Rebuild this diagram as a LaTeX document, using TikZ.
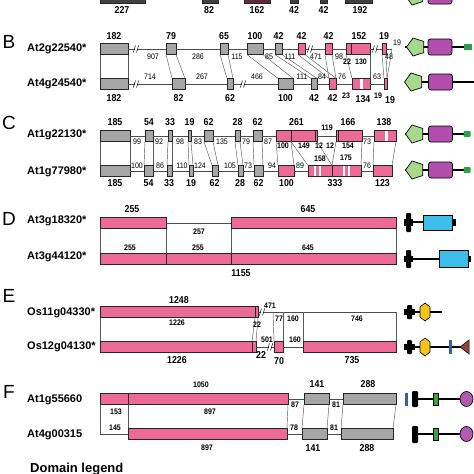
\documentclass[tikz,border=0pt]{standalone}
\usepackage{fontspec}
\setmainfont{Liberation Sans}
\newfontfamily\narf[FakeStretch=0.88]{Liberation Sans}
\usetikzlibrary{shapes.geometric}
\definecolor{expink}{HTML}{EC6A96}
\definecolor{exgray}{HTML}{A6A6A6}
\definecolor{pentg}{HTML}{A8D88C}
\definecolor{magd}{HTML}{B24FAE}
\definecolor{sqg}{HTML}{2E9E4A}
\definecolor{bluebx}{HTML}{3CBDEA}
\definecolor{yelhx}{HTML}{F6C41C}
\definecolor{brn}{HTML}{8C4636}
\definecolor{blbar}{HTML}{3B5CA8}
\definecolor{grbar}{HTML}{3DA33F}
\definecolor{purel}{HTML}{B05AB2}
\newcommand\X[5]{\node[#5, minimum width={(#3-#2)*1pt}] (#1) at ({(#2+#3)/2},#4) {};}
\newcommand\T[5]{\node[#1] (#2) at (#3,#4) {#5};}
\newcommand\brk[2]{\fill[white] (#1-1.4,#2-4) rectangle (#1+1.4,#2+4);
 \draw[line width=0.5pt] (#1-2.6,#2+3.5) -- (#1-0.6,#2-3.5) (#1+0.6,#2+3.5) -- (#1+2.6,#2-3.5);}
\newcommand\pent[3]{\node[regular polygon, regular polygon sides=5, shape border rotate=90, minimum size=19pt, inner sep=0pt, fill=pentg, draw=black, line width=0.7pt] (#1) at (#2,#3) {};}
\newcommand\magb[3]{\node[draw=black, line width=0.8pt, fill=magd, rounded corners=2.5pt, minimum width=24pt, minimum height=16pt, inner sep=0pt] (#1) at (#2,#3) {};}
\begin{document}
\begin{tikzpicture}[x=1pt,y=-1pt,
 ex/.style={draw=black!85, line width=0.8pt, inner sep=0pt, outer sep=0pt, minimum height=11.2pt},
 gx/.style={ex, fill=exgray},
 px/.style={ex, fill=expink},
 dk/.style={ex, fill=black!75},
 dkp/.style={ex, fill=expink!40!black},
 trk/.style={black!70, line width=0.8pt},
 cn/.style={black!65, line width=0.45pt},
 dv/.style={black!85, line width=0.6pt},
 num/.style={font=\narf\bfseries\fontsize{10}{10}\selectfont, inner sep=0pt},
 sn/.style={font=\narf\bfseries\fontsize{8}{8}\selectfont, inner sep=0pt},
 il/.style={font=\narf\fontsize{8}{8}\selectfont, inner sep=0pt},
 gn/.style={font=\bfseries\fontsize{11}{11}\selectfont, anchor=west, inner sep=0pt},
 pl/.style={font=\fontsize{19}{19}\selectfont, inner sep=0pt},
 dline/.style={line width=2.2pt, black}]
\useasboundingbox (0,0) rectangle (474,474);
\clip (0,0) rectangle (474,474);
\fill[white] (0,0) rectangle (474,474);

% ---------- Row A (cut off) ----------
\X{a1}{100}{145}{-2}{dk}
\X{a2}{202}{218}{-2}{dk}
\X{a3}{244}{270}{-2}{dkp}
\X{a4}{290}{298}{-2}{dk}
\X{a5}{320}{327}{-2}{dk}
\X{a6}{345}{372}{-2}{dk}
\T{num}{la1}{122}{10.5}{227}
\T{num}{la2}{209}{10.5}{82}
\T{num}{la3}{257}{10.5}{162}
\T{num}{la4}{294}{10.5}{42}
\T{num}{la5}{323.5}{10.5}{42}
\T{num}{la6}{360}{10.5}{192}
\draw[dline] (405,-4) -- (474,-4);
\pent{pA}{415}{-4}
\magb{mA}{440}{-4}

% ---------- Row B ----------
\T{pl}{pB}{9}{42}{B}
\T{gn}{gB1}{27}{49}{At2g22540*}
\T{gn}{gB2}{27}{84}{At4g24540*}
\X{t1}{100}{128}{49}{gx}
\X{t2}{166}{176}{49}{gx}
\X{t3}{220}{228}{49}{gx}
\X{t4}{247}{263}{49}{gx}
\X{t5}{275}{282}{49}{gx}
\X{t6}{298}{305}{49}{px}
\X{t7}{325}{332}{49}{px}
\X{t8}{346}{370}{49}{px}
\X{t9}{382}{386}{49}{px}
\coordinate (tEnd) at (392,49);
\foreach \a/\b in {t1/t2,t2/t3,t3/t4,t4/t5,t5/t6,t6/t7,t7/t8,t8/t9} \draw[trk] (\a.east) -- (\b.west);
\draw[trk] (t9.east) -- (tEnd);
\draw[dv] ([xshift=5pt]t8.north west) -- ([xshift=5pt]t8.south west);
\brk{136}{49}\brk{310}{49}\brk{375}{49}
\X{b1}{100}{128}{84}{gx}
\X{b2}{172}{185}{84}{gx}
\X{b3}{227}{233}{84}{gx}
\X{b4}{278}{293}{84}{gx}
\X{b5}{311}{317}{84}{gx}
\X{b6}{329}{336}{84}{px}
\X{b7}{352}{370}{84}{px}
\X{b8}{384}{387}{84}{px}
\fill[white] (360,79) rectangle (363,89);
\foreach \a/\b in {b1/b2,b2/b3,b3/b4,b4/b5,b5/b6,b6/b7,b7/b8} \draw[trk] (\a.east) -- (\b.west);
\brk{136}{84}\brk{243}{84}
\foreach \a/\b in {t1/b1,t2/b2,t3/b3,t4/b4,t5/b5,t6/b6,t7/b6,t8/b7,t9/b8} {
 \draw[cn] (\a.south west) -- (\b.north west);
 \draw[cn] (\a.south east) -- (\b.north east);}
\draw[cn] (tEnd) -- (b8.north east);
\T{num}{nB1}{114}{36}{182}
\T{num}{nB2}{171}{36}{79}
\T{num}{nB3}{224}{36}{65}
\T{num}{nB4}{255}{36}{100}
\T{num}{nB5}{278.5}{36}{42}
\T{num}{nB6}{301.5}{36}{42}
\T{num}{nB7}{328.5}{36}{42}
\T{num}{nB8}{359}{36}{152}
\T{num}{nB9}{384}{36}{19}
\T{il}{iB1}{153}{57}{907}
\T{il}{iB2}{198}{57}{286}
\T{il}{iB3}{237}{57}{115}
\T{il}{iB4}{269}{57}{85}
\T{il}{iB5}{290}{57}{111}
\T{il}{iB6}{316}{57}{471}
\T{il}{iB7}{339}{57}{98}
\T{sn}{sB1}{347}{62}{22}
\T{sn}{sB2}{361}{62}{130}
\T{il}{iB8}{389}{57}{48}
\T{il}{iB9}{397}{43}{19}
\T{num}{mB1}{114}{98}{182}
\T{num}{mB2}{178.5}{98}{82}
\T{num}{mB3}{230}{98}{62}
\T{num}{mB4}{285.5}{98}{100}
\T{num}{mB5}{314}{98}{42}
\T{num}{mB6}{332.5}{98}{42}
\T{num}{mB7}{363}{99}{134}
\T{num}{mB8}{390}{100}{19}
\T{sn}{sB3}{346}{96}{23}
\T{sn}{sB4}{378}{96}{19}
\T{il}{jB1}{150}{77}{714}
\T{il}{jB2}{202}{77}{267}
\T{il}{jB3}{257}{77}{466}
\T{il}{jB4}{302}{77}{111}
\T{il}{jB5}{322}{77}{84}
\T{il}{jB6}{342}{77}{76}
\T{il}{jB7}{377}{77}{63}
\draw[dline] (405,47) -- (467,47);
\pent{pB1}{416}{47}
\magb{mgB1}{440}{47}
\node[fill=sqg, minimum width=8pt, minimum height=6pt, inner sep=0pt] (sqB1) at (468,47) {};
\draw[dline] (405,82) -- (474,82);
\pent{pB2}{414}{82}
\magb{mgB2}{440.5}{82}

% ---------- Row C ----------
\T{pl}{pC}{9}{123}{C}
\T{gn}{gC1}{27}{135}{At1g22130*}
\T{gn}{gC2}{27}{172}{At1g77980*}
\X{c1}{100}{130}{136}{gx}
\X{c2}{145}{153}{136}{gx}
\X{c3}{168}{172}{136}{gx}
\X{c4}{188}{191}{136}{gx}
\X{c5}{204}{213}{136}{gx}
\X{c6}{235}{240}{136}{gx}
\X{c7}{253}{262}{136}{gx}
\X{c8}{276}{317}{136}{px}
\X{c9}{336}{362}{136}{px}
\X{c10}{374}{396}{136}{px}
\fill[white] (385,131) rectangle (387.5,141);
\draw[dv] (291,130.4) -- (291,141.6);
\draw[dv] (315,130.4) -- (315,141.6);
\draw[dv] (338,130.4) -- (338,141.6);
\foreach \a/\b in {c1/c2,c2/c3,c3/c4,c4/c5,c5/c6,c6/c7,c7/c8,c8/c9,c9/c10} \draw[trk] (\a.east) -- (\b.west);
\X{d1}{100}{130}{171}{gx}
\X{d2}{144}{153}{171}{gx}
\X{d3}{167}{172}{171}{gx}
\X{d4}{189}{193}{171}{gx}
\X{d5}{212}{218}{171}{gx}
\X{d6}{238}{243}{171}{gx}
\X{d7}{254}{263}{171}{gx}
\X{d8}{278}{294}{171}{px}
\X{d9}{308}{361}{171}{px}
\X{d10}{373}{392}{171}{px}
\foreach \s in {314,318.5,342.5,348} \fill[white] (\s,166) rectangle (\s+2,176);
\draw[dv] (332,165.4) -- (332,176.6);
\foreach \a/\b in {d1/d2,d2/d3,d3/d4,d4/d5,d5/d6,d6/d7,d7/d8,d8/d9,d9/d10} \draw[trk] (\a.east) -- (\b.west);
\foreach \a/\b in {c1/d1,c2/d2,c3/d3,c4/d4,c5/d5,c6/d6,c7/d7,c10/d10} {
 \draw[cn] (\a.south west) -- (\b.north west);
 \draw[cn] (\a.south east) -- (\b.north east);}
\coordinate (c8d) at (291,141.6);
\coordinate (d9d) at (332,165.4);
\draw[cn] (c8.south west) -- (d8.north west);
\draw[cn] (c8d) -- (d8.north east);
\draw[cn] (c8d) -- (d9.north west);
\draw[cn] (c8.south east) -- (d9d);
\draw[cn] (c9.south west) -- (d9d);
\draw[cn] (c9.south east) -- (d9.north east);
\T{num}{nC1}{115}{122}{185}
\T{num}{nC2}{149}{122}{54}
\T{num}{nC3}{170}{122}{33}
\T{num}{nC4}{189.5}{122}{19}
\T{num}{nC5}{208.5}{122}{62}
\T{num}{nC6}{237.5}{122}{28}
\T{num}{nC7}{257.5}{122}{62}
\T{num}{nC8}{296.5}{122}{261}
\T{num}{nC9}{348}{122}{166}
\T{num}{nC10}{384}{122}{138}
\T{sn}{sC0}{327}{128}{119}
\T{il}{iC1}{137}{142}{99}
\T{il}{iC2}{159}{142}{92}
\T{il}{iC3}{180}{142}{98}
\T{il}{iC4}{198}{142}{83}
\T{il}{iC5}{222}{142}{135}
\T{il}{iC6}{246}{142}{79}
\T{il}{iC7}{268}{142}{87}
\T{il}{iC8}{367}{142}{73}
\T{sn}{sC1}{283}{146}{100}
\T{sn}{sC2}{304}{146}{149}
\T{sn}{sC3}{319}{146}{12}
\T{sn}{sC4}{330}{146}{12}
\T{sn}{sC5}{348}{146}{154}
\T{sn}{sC6}{320}{159}{158}
\T{sn}{sC7}{346}{158}{175}
\T{il}{jC1}{137}{166}{100}
\T{il}{jC2}{160}{166}{86}
\T{il}{jC3}{182}{166}{110}
\T{il}{jC4}{200}{166}{124}
\T{il}{jC5}{230}{166}{105}
\T{il}{jC6}{248}{166}{73}
\T{il}{jC7}{272}{166}{94}
\T{il}{jC8}{300}{166}{89}
\T{il}{jC9}{367}{166}{76}
\T{num}{mC1}{115}{183}{185}
\T{num}{mC2}{148.5}{183}{54}
\T{num}{mC3}{169}{183}{33}
\T{num}{mC4}{191}{183}{19}
\T{num}{mC5}{214.5}{183}{62}
\T{num}{mC6}{240}{183}{28}
\T{num}{mC7}{258.5}{183}{62}
\T{num}{mC8}{286.5}{183}{100}
\T{num}{mC9}{335}{183}{333}
\T{num}{mC10}{382.5}{183}{123}
\draw[dline] (405,134) -- (466,134);
\pent{pC1}{415}{134}
\magb{mgC1}{440.5}{134}
\node[fill=sqg, minimum width=7pt, minimum height=6pt, inner sep=0pt, rounded corners=1pt] (sqC1) at (467,134) {};
\draw[dline] (405,170) -- (466,170);
\pent{pC2}{415}{170}
\magb{mgC2}{440.5}{170}
\node[fill=sqg, minimum width=7pt, minimum height=6pt, inner sep=0pt, rounded corners=1pt] (sqC2) at (467,170) {};

% ---------- Row D ----------
\T{pl}{pD}{9}{219}{D}
\T{gn}{gD1}{27}{221}{At3g18320*}
\T{gn}{gD2}{27}{257}{At3g44120*}
\X{e1}{100}{166}{223}{px}
\X{e2}{231}{396}{223}{px}
\draw[trk] (e1.east) -- (e2.west);
\X{f1}{100}{166}{258.5}{px}
\X{f2}{166}{231}{258.5}{px}
\X{f3}{231}{396}{258.5}{px}
\foreach \a/\b in {e1/f1,e2/f3} {
 \draw[cn] (\a.south west) -- (\b.north west);
 \draw[cn] (\a.south east) -- (\b.north east);}
\T{num}{nD1}{132}{209}{255}
\T{num}{nD2}{308}{209}{645}
\T{sn}{sD1}{199}{232}{257}
\T{sn}{sD2}{130}{248}{255}
\T{sn}{sD3}{198}{248}{255}
\T{sn}{sD4}{308}{248}{645}
\T{num}{mD1}{241}{273}{1155}
\draw[line width=1.6pt] (408,222) -- (453,222);
\fill[rounded corners=1pt] (406,213) rectangle (411,232);
\fill (404,219) rectangle (413,226);
\node[draw=black, line width=0.8pt, fill=bluebx, minimum width=29pt, minimum height=15pt, inner sep=0pt] (bxD1) at (437.5,222.5) {};
\fill (453,219) rectangle (455.5,226);
\draw[line width=1.6pt] (408,259) -- (468,259);
\fill[rounded corners=1pt] (406,250) rectangle (411,268);
\fill (404,256) rectangle (413,262);
\node[draw=black, line width=0.8pt, fill=bluebx, minimum width=29pt, minimum height=17pt, inner sep=0pt] (bxD2) at (453.5,259) {};
\fill (468,256) rectangle (470.5,262);

% ---------- Row E ----------
\T{pl}{pE}{9}{296}{E}
\T{gn}{gE1}{27}{313}{Os11g04330*}
\T{gn}{gE2}{27}{347}{Os12g04130*}
\X{g1}{100}{258}{312}{px}
\draw[dv] (255,306.4) -- (255,317.6);
\coordinate (eA) at (273,312);
\coordinate (eB) at (283,312);
\coordinate (eC) at (303,312);
\coordinate (eD) at (396,312);
\draw[trk] (g1.east) -- (eD);
\brk{262}{312}
\X{h1}{100}{256}{347}{px}
\draw[dv] (252,341.4) -- (252,352.6);
\X{h2}{274}{283}{347}{px}
\X{h3}{303}{396}{347}{px}
\draw[trk] (h1.east) -- (h2.west);
\draw[trk] (h2.east) -- (h3.west);
\brk{270}{347}
\draw[cn] (g1.south west) -- (h1.north west);
\draw[cn] (g1.south east) -- (h1.north east);
\coordinate (g1d) at (255,317.6);
\coordinate (h1d) at (252,341.4);
\draw[cn] (g1d) -- (h1d);
\draw[cn] (eA) -- (h2.north west);
\draw[cn] (eB) -- (h2.north east);
\draw[cn] (eC) -- (h3.north west);
\draw[cn] (eD) -- (h3.north east);
\T{num}{nE1}{179}{300}{1248}
\T{sn}{sE1}{270}{306}{471}
\T{sn}{sE2}{279}{319}{77}
\T{sn}{sE3}{293}{319}{160}
\T{sn}{sE4}{357}{319}{746}
\T{sn}{sE5}{177}{323}{1226}
\T{sn}{sE6}{257}{325}{22}
\T{sn}{sE7}{267}{340}{501}
\T{sn}{sE8}{295}{340}{160}
\T{num}{mE1}{177}{360}{1226}
\T{num}{mE2}{261}{355}{22}
\T{num}{mE3}{279}{361}{70}
\T{num}{mE4}{352}{360}{735}
\draw[line width=2pt] (405,312) -- (442,312);
\fill[rounded corners=1pt] (407,305) rectangle (412,319);
\fill (404,309) rectangle (415,315);
\filldraw[fill=yelhx, draw=black, line width=0.6pt] (425,303) -- (430,307) -- (430,317) -- (425,321) -- (420,317) -- (420,307) -- cycle;
\draw[line width=2pt] (405,347) -- (462,347);
\fill[rounded corners=1pt] (407,340) rectangle (412,354);
\fill (404,344) rectangle (415,350);
\filldraw[fill=yelhx, draw=black, line width=0.6pt] (425,338) -- (430,342) -- (430,352) -- (425,356) -- (420,352) -- (420,342) -- cycle;
\fill[blbar] (449,340) rectangle (451.5,354);
\filldraw[fill=brn, draw=black, line width=0.5pt] (460,347) -- (469,340) -- (469,354) -- cycle;

% ---------- Row F ----------
\T{pl}{pF}{9}{392}{F}
\T{gn}{gF1}{27}{400}{At1g55660}
\T{gn}{gF2}{27}{435}{At4g00315}
\X{k1}{100}{288}{399}{px}
\draw[dv] (128,393.4) -- (128,404.6);
\X{k2}{304}{329}{399}{gx}
\X{k3}{343}{396}{399}{gx}
\draw[trk] (k1.east) -- (k2.west);
\draw[trk] (k2.east) -- (k3.west);
\coordinate (fL) at (100,434);
\coordinate (k1d) at (128,404.6);
\X{l1}{128}{287}{434}{px}
\X{l2}{302}{327}{434}{gx}
\X{l3}{341}{393}{434}{gx}
\draw[trk] (fL) -- (l1.west);
\draw[trk] (l1.east) -- (l2.west);
\draw[trk] (l2.east) -- (l3.west);
\draw[cn] (k1.south west) -- (fL);
\draw[cn] (k1d) -- (l1.north west);
\draw[cn] (k1.south east) -- (l1.north east);
\foreach \a/\b in {k2/l2,k3/l3} {
 \draw[cn] (\a.south west) -- (\b.north west);
 \draw[cn] (\a.south east) -- (\b.north east);}
\T{sn}{nF1}{201}{385}{1050}
\T{num}{nF2}{317}{384}{141}
\T{num}{nF3}{368}{384}{288}
\T{sn}{sF1}{295}{405}{87}
\T{sn}{sF2}{336}{405}{81}
\T{sn}{sF3}{116}{412}{153}
\T{sn}{sF4}{210}{412}{897}
\T{sn}{sF5}{115}{428}{145}
\T{sn}{sF6}{294}{428}{78}
\T{sn}{sF7}{334}{428}{81}
\T{sn}{mF1}{207}{448}{897}
\T{num}{mF2}{313}{448}{141}
\T{num}{mF3}{367}{448}{288}
\draw[line width=2pt] (415,399) -- (462,399);
\fill[blbar] (405,393) rectangle (407.5,406);
\fill[rounded corners=1.2pt] (412,391) rectangle (418,407);
\filldraw[fill=grbar, draw=black, line width=0.4pt] (433,393) rectangle (438,405);
\filldraw[fill=purel, draw=black, line width=0.7pt] (466.5,399) ellipse (6.5 and 7.5);
\draw[line width=2pt] (415,434) -- (462,434);
\fill[rounded corners=1.2pt] (412,426) rectangle (418,443);
\filldraw[fill=grbar, draw=black, line width=0.4pt] (433,428) rectangle (438,440);
\filldraw[fill=purel, draw=black, line width=0.7pt] (466.5,434) ellipse (6.5 and 7.5);

\node[font=\bfseries\fontsize{13}{13}\selectfont, anchor=west, inner sep=0pt] (leg) at (30,469) {Domain legend};
\end{tikzpicture}
\end{document}
